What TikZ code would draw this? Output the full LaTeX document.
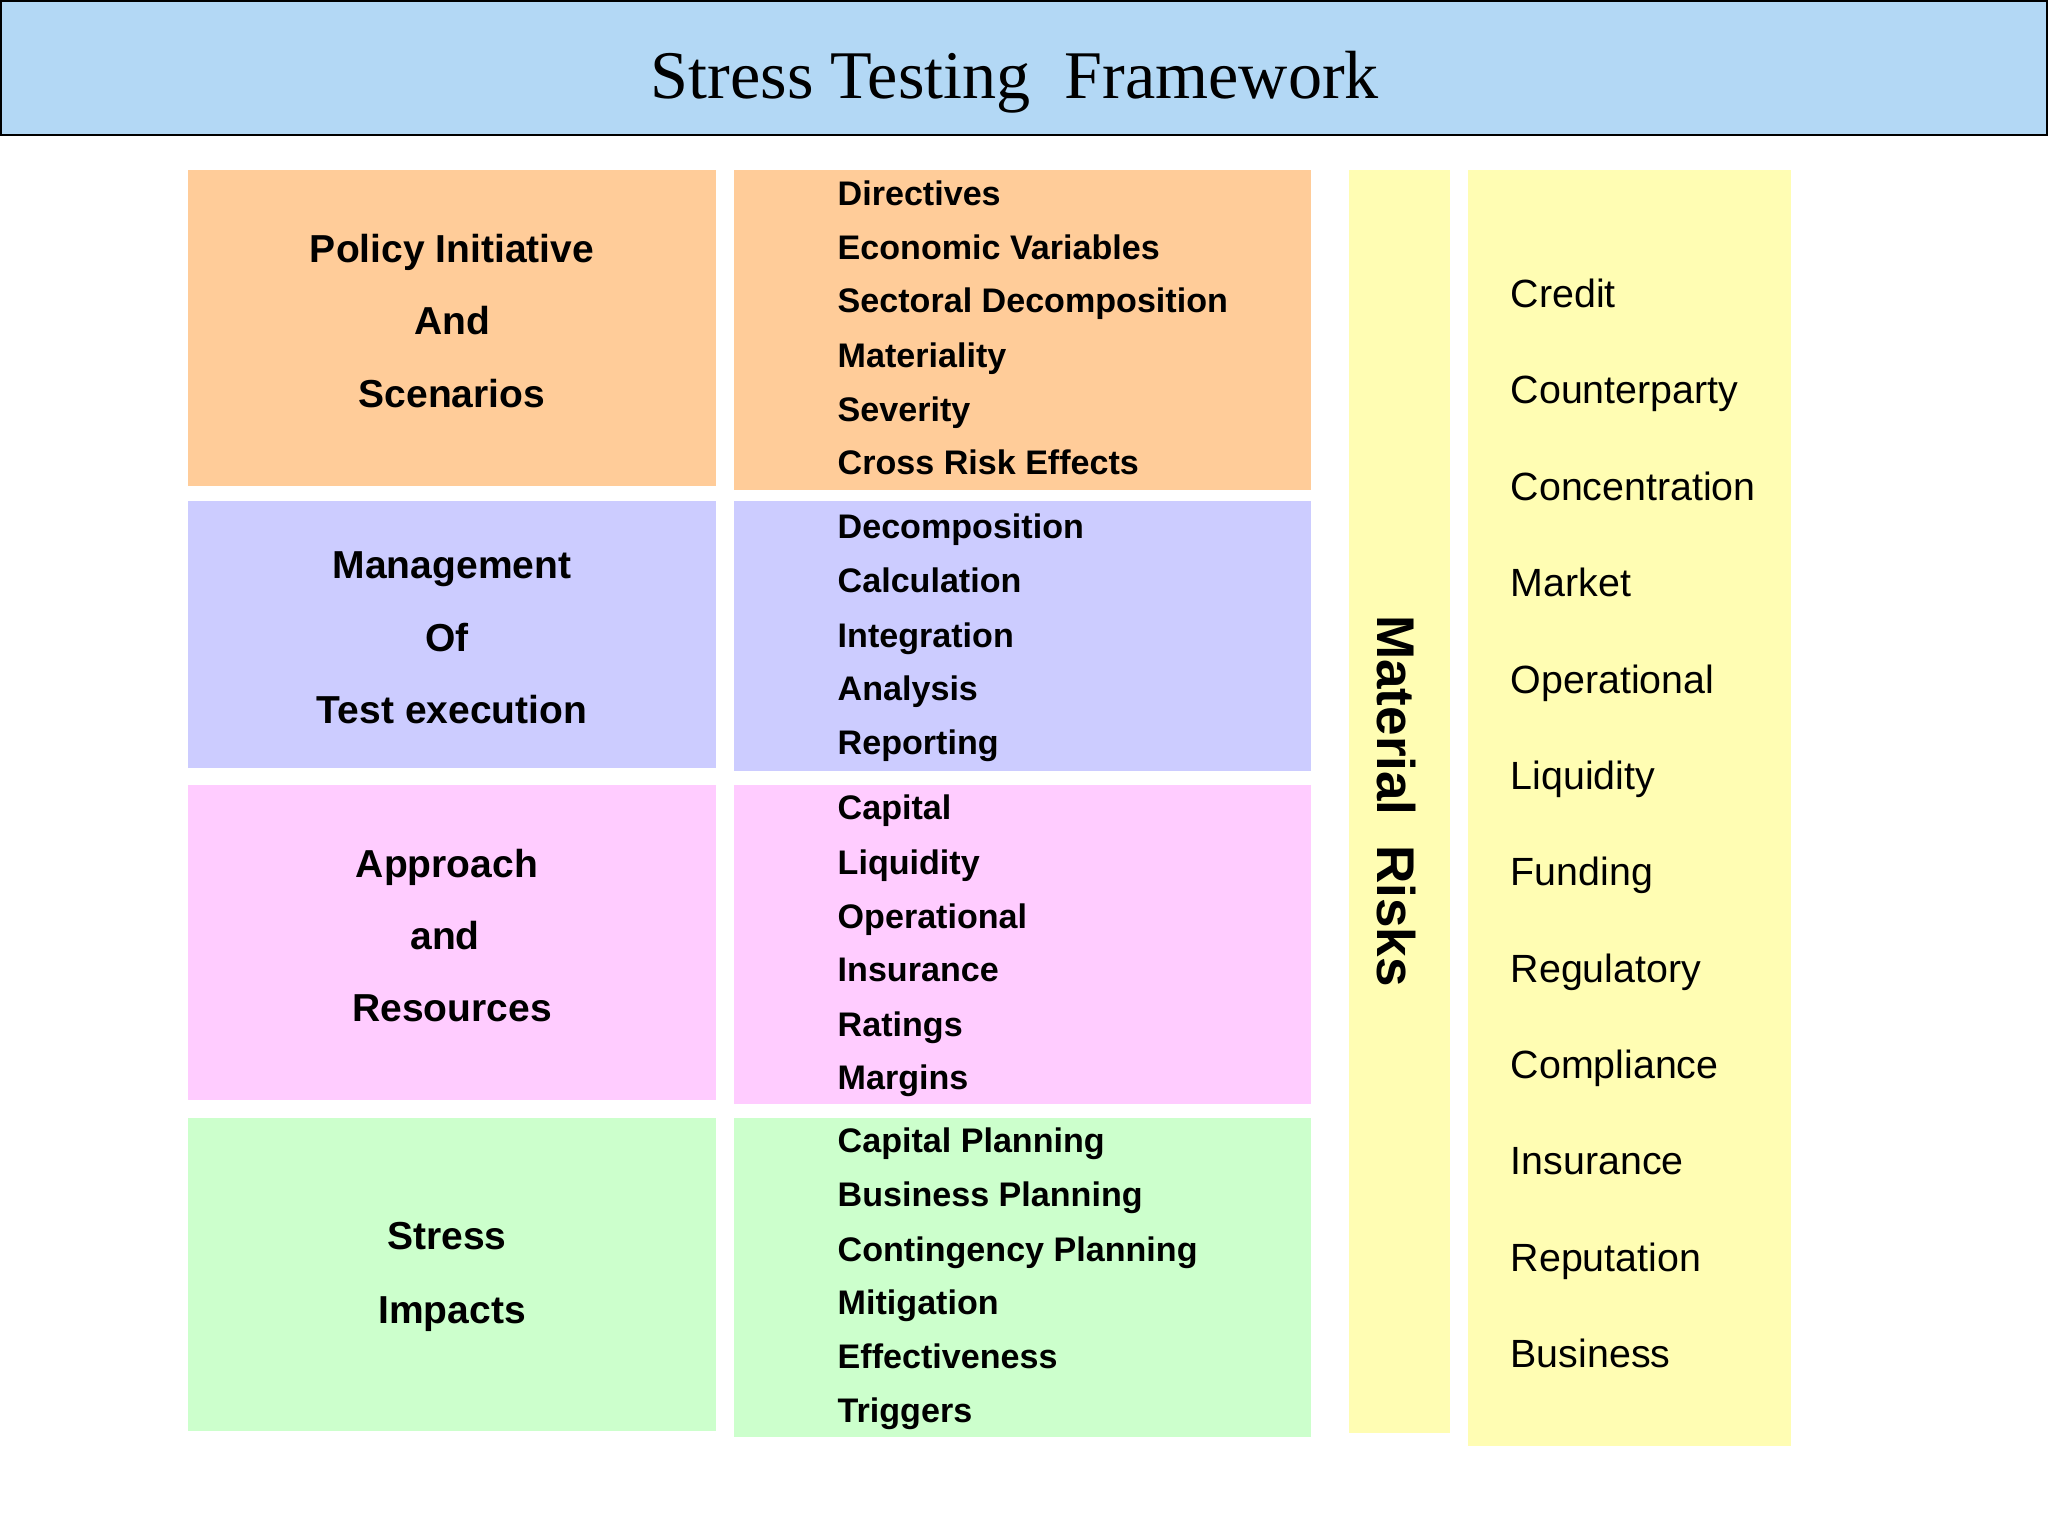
\documentclass[tikz,border=0pt]{standalone}
\usepackage{fontspec}
\setmainfont{Liberation Serif}
\newfontfamily\arial{Liberation Sans}
\usetikzlibrary{fit}
\definecolor{titlebg}{HTML}{B3D8F5}
\definecolor{orangeC}{HTML}{FFCC99}
\definecolor{purpleC}{HTML}{CCCCFF}
\definecolor{pinkC}{HTML}{FFCCFF}
\definecolor{greenC}{HTML}{CCFFCC}
\definecolor{yellowC}{HTML}{FFFDB3}
\tikzset{
  panel/.style={inner sep=0pt, outer sep=0pt, draw=none},
  lefttxt/.style={inner sep=0pt, anchor=base, font=\arial\fontsize{11.1pt}{13pt}\selectfont\bfseries},
  midtxt/.style={inner sep=0pt, anchor=base west, font=\arial\fontsize{9.7pt}{11pt}\selectfont\bfseries},
  risktxt/.style={inner sep=0pt, anchor=base west, font=\arial\fontsize{11.2pt}{13pt}\selectfont},
}
\begin{document}
\begin{tikzpicture}[x=0.1mm, y=-0.1mm]
\useasboundingbox (0,0) rectangle (2048,1536);
\fill[white] (0,0) rectangle (2048,1536);
% title bar
\node[panel, fit={(1,1) (2047,135)}, fill=titlebg, draw=black, line width=0.8pt] (titlebar) {};
\node[inner sep=0pt, anchor=base, font=\fontsize{19.4pt}{23pt}\selectfont] (title) at (1015,98) {Stress Testing\ \ Framework};
% left column panels
\node[panel, fit={(188,170) (716,486)}, fill=orangeC] (polL) {};
\node[panel, fit={(188,501) (716,768)}, fill=purpleC] (mgmtL) {};
\node[panel, fit={(188,785) (716,1100)}, fill=pinkC] (apprL) {};
\node[panel, fit={(188,1118) (716,1431)}, fill=greenC] (stressL) {};
% middle column panels
\node[panel, fit={(734,170) (1311,490)}, fill=orangeC] (polM) {};
\node[panel, fit={(734,501) (1311,771)}, fill=purpleC] (mgmtM) {};
\node[panel, fit={(734,785) (1311,1104)}, fill=pinkC] (apprM) {};
\node[panel, fit={(734,1118) (1311,1437)}, fill=greenC] (stressM) {};
% material risks
\node[panel, fit={(1349,170) (1450,1433)}, fill=yellowC] (matcol) {};
\node[panel, fit={(1468,170) (1791,1446)}, fill=yellowC] (riskcol) {};
% left texts
\node[lefttxt] (l1a) at (452,262) {Policy Initiative};
\node[lefttxt] (l1b) at (452,334) {And};
\node[lefttxt] (l1c) at (452,407) {Scenarios};
\node[lefttxt] (l2a) at (452,578) {Management};
\node[lefttxt] (l2b) at (447,651) {Of};
\node[lefttxt] (l2c) at (452,723) {Test execution};
\node[lefttxt] (l3a) at (447,877) {Approach};
\node[lefttxt] (l3b) at (445,949) {and};
\node[lefttxt] (l3c) at (452,1021) {Resources};
\node[lefttxt] (l4a) at (447,1249) {Stress};
\node[lefttxt] (l4b) at (452,1323) {Impacts};
% middle texts
\node[midtxt] (m1a) at (837,205) {Directives};
\node[midtxt] (m1b) at (837,259) {Economic Variables};
\node[midtxt] (m1c) at (837,312) {Sectoral Decomposition};
\node[midtxt] (m1d) at (837,367) {Materiality};
\node[midtxt] (m1e) at (837,421) {Severity};
\node[midtxt] (m1f) at (837,474) {Cross Risk Effects};
\node[midtxt] (m2a) at (837,538) {Decomposition};
\node[midtxt] (m2b) at (837,592) {Calculation};
\node[midtxt] (m2c) at (837,647) {Integration};
\node[midtxt] (m2d) at (837,700) {Analysis};
\node[midtxt] (m2e) at (837,754) {Reporting};
\node[midtxt] (m3a) at (837,819) {Capital};
\node[midtxt] (m3b) at (837,874) {Liquidity};
\node[midtxt] (m3c) at (837,928) {Operational};
\node[midtxt] (m3d) at (837,981) {Insurance};
\node[midtxt] (m3e) at (837,1036) {Ratings};
\node[midtxt] (m3f) at (837,1089) {Margins};
\node[midtxt] (m4a) at (837,1152) {Capital Planning};
\node[midtxt] (m4b) at (837,1206) {Business Planning};
\node[midtxt] (m4c) at (837,1261) {Contingency Planning};
\node[midtxt] (m4d) at (837,1314) {Mitigation};
\node[midtxt] (m4e) at (837,1368) {Effectiveness};
\node[midtxt] (m4f) at (837,1422) {Triggers};
% vertical label
\node[inner sep=0pt, rotate=-90, font=\arial\fontsize{15.1pt}{18pt}\selectfont\bfseries] (matlabel) at (1396,801) {Material\ \ Risks};
% risks list
\node[risktxt] (r1) at (1510,307) {Credit};
\node[risktxt] (r2) at (1510,403) {Counterparty};
\node[risktxt] (r3) at (1510,500) {Concentration};
\node[risktxt] (r4) at (1510,596) {Market};
\node[risktxt] (r5) at (1510,693) {Operational};
\node[risktxt] (r6) at (1510,789) {Liquidity};
\node[risktxt] (r7) at (1510,885) {Funding};
\node[risktxt] (r8) at (1510,982) {Regulatory};
\node[risktxt] (r9) at (1510,1078) {Compliance};
\node[risktxt] (r10) at (1510,1174) {Insurance};
\node[risktxt] (r11) at (1510,1271) {Reputation};
\node[risktxt] (r12) at (1510,1367) {Business};
\end{tikzpicture}
\end{document}
